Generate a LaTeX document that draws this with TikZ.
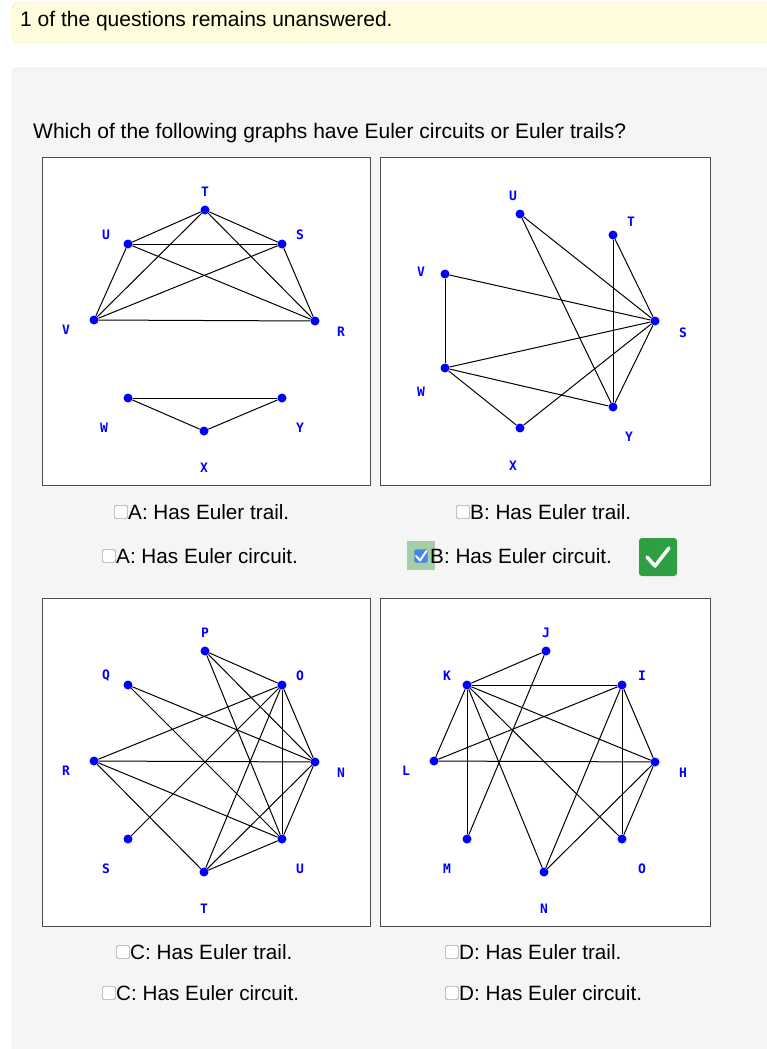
\documentclass[tikz,border=0pt]{standalone}
\usepackage{fontspec}
\setmainfont{Liberation Sans}
\newfontfamily\lblfont{DejaVu Sans Mono}
\begin{document}
\begin{tikzpicture}[x=1pt,y=-1pt,
  v/.style={circle,fill=blue,inner sep=0pt,minimum size=9pt},
  lbl/.style={font=\lblfont\bfseries\fontsize{13}{13}\selectfont,text=blue},
  ed/.style={black,line width=1pt},
  gbox/.style={draw=black!70,fill=white,line width=1pt},
  txt/.style={anchor=west,font=\fontsize{20.7}{24}\selectfont,inner sep=0pt},
  cb/.style={draw=black!60,fill=white,rounded corners=2pt,minimum size=13pt,inner sep=0pt}]
\useasboundingbox (0,0) rectangle (766,1049);
\fill[white] (0,0) rectangle (766,1049);
\draw[fill=yellow!14,draw={rgb,255:red,240;green,222;blue,150},rounded corners=5pt] (12,3) rectangle (780,43);
\node[txt,font=\fontsize{21}{24}\selectfont] (banner) at (20,21) {1 of the questions remains unanswered.};
\draw[fill=black!4,draw=black!12,rounded corners=5pt] (12,68) rectangle (790,1060);
\node[txt,font=\fontsize{21}{24}\selectfont] (q) at (33,133) {Which of the following graphs have Euler circuits or Euler trails?};
\draw[gbox] (42,157) rectangle (370,485);
\draw[gbox] (380,157) rectangle (710,485);
\draw[gbox] (42,598) rectangle (370,926);
\draw[gbox] (380,598) rectangle (710,926);
% Graph A
\node[v] (aT) at (205,210) {}; \node[v] (aU) at (128,244) {}; \node[v] (aS) at (282,244) {};
\node[v] (aV) at (94,320) {}; \node[v] (aR) at (315,321) {}; \node[v] (aW) at (128,398) {};
\node[v] (aY) at (282,398) {}; \node[v] (aX) at (204,431) {};
\foreach \a/\b in {aT/aU,aT/aS,aT/aV,aT/aR,aU/aS,aU/aV,aU/aR,aS/aV,aS/aR,aV/aR,aW/aY,aW/aX,aX/aY} \draw[ed] (\a)--(\b);
\node[lbl] at (205,192) {T}; \node[lbl] at (106,235) {U}; \node[lbl] at (300,235) {S};
\node[lbl] at (66,330) {V}; \node[lbl] at (341,332) {R}; \node[lbl] at (104,428) {W};
\node[lbl] at (300,428) {Y}; \node[lbl] at (204,468) {X};
% Graph B
\node[v] (bU) at (520,214) {}; \node[v] (bT) at (613,235) {}; \node[v] (bV) at (445,274) {};
\node[v] (bS) at (655,321) {}; \node[v] (bW) at (445,368) {}; \node[v] (bY) at (613,407) {};
\node[v] (bX) at (520,428) {};
\foreach \a/\b in {bU/bS,bU/bY,bT/bY,bT/bS,bV/bS,bV/bW,bW/bS,bW/bY,bW/bX,bX/bS,bS/bY} \draw[ed] (\a)--(\b);
\node[lbl] at (513,196) {U}; \node[lbl] at (631,222) {T}; \node[lbl] at (421,272) {V};
\node[lbl] at (683,333) {S}; \node[lbl] at (421,392) {W}; \node[lbl] at (629,437) {Y};
\node[lbl] at (513,466) {X};
% Graph C
\node[v] (cP) at (205,651) {}; \node[v] (cQ) at (128,685) {}; \node[v] (cO) at (282,685) {};
\node[v] (cR) at (94,761) {}; \node[v] (cN) at (315,762) {}; \node[v] (cS) at (128,839) {};
\node[v] (cU) at (282,839) {}; \node[v] (cT) at (204,872) {};
\foreach \a/\b in {cP/cO,cP/cN,cP/cU,cQ/cN,cQ/cU,cO/cR,cO/cS,cO/cT,cO/cU,cO/cN,cR/cN,cR/cU,cR/cT,cN/cU,cN/cT,cU/cT} \draw[ed] (\a)--(\b);
\node[lbl] at (205,633) {P}; \node[lbl] at (106,676) {Q}; \node[lbl] at (300,676) {O};
\node[lbl] at (66,771) {R}; \node[lbl] at (341,773) {N}; \node[lbl] at (106,869) {S};
\node[lbl] at (300,869) {U}; \node[lbl] at (204,909) {T};
% Graph D
\node[v] (dJ) at (546,651) {}; \node[v] (dK) at (467,685) {}; \node[v] (dI) at (622,685) {};
\node[v] (dL) at (434,761) {}; \node[v] (dH) at (655,762) {}; \node[v] (dM) at (467,839) {};
\node[v] (dO) at (622,839) {}; \node[v] (dN) at (544,872) {};
\foreach \a/\b in {dJ/dK,dJ/dM,dK/dI,dK/dL,dK/dM,dK/dN,dK/dO,dK/dH,dI/dL,dI/dN,dI/dO,dI/dH,dL/dH,dH/dO,dH/dN} \draw[ed] (\a)--(\b);
\node[lbl] at (546,633) {J}; \node[lbl] at (447,676) {K}; \node[lbl] at (642,676) {I};
\node[lbl] at (406,771) {L}; \node[lbl] at (683,773) {H}; \node[lbl] at (447,869) {M};
\node[lbl] at (642,869) {O}; \node[lbl] at (544,909) {N};
% answers
\node[cb] (c1) at (121,512) {}; \node[txt] at (128,512) {A: Has Euler trail.};
\node[cb] (c2) at (109,556) {}; \node[txt] at (116,556) {A: Has Euler circuit.};
\node[cb] (c3) at (463,512) {}; \node[txt] at (470,512) {B: Has Euler trail.};
\fill[green!45!black!35!white] (407,541) rectangle (435,570);
\node[cb,fill={rgb,255:red,66;green,133;blue,244},draw={rgb,255:red,66;green,133;blue,244}] (c4) at (421,556) {};
\draw[white,line width=2pt,line cap=round,line join=round] (416,556)--(420,560.5)--(426.5,551);
\node[txt] at (430,556) {B: Has Euler circuit.};
\node[fill={rgb,255:red,46;green,160;blue,67},rounded corners=3pt,minimum size=38pt,inner sep=0pt] (ok) at (658,557) {};
\draw[white,line width=3.5pt,line cap=round,line join=round] (647,557)--(655,566)--(669,548);
\node[cb] (c5) at (123,952) {}; \node[txt] at (130,952) {C: Has Euler trail.};
\node[cb] (c6) at (109,993) {}; \node[txt] at (116,993) {C: Has Euler circuit.};
\node[cb] (c7) at (452,952) {}; \node[txt] at (459,952) {D: Has Euler trail.};
\node[cb] (c8) at (452,993) {}; \node[txt] at (459,993) {D: Has Euler circuit.};
\end{tikzpicture}
\end{document}
